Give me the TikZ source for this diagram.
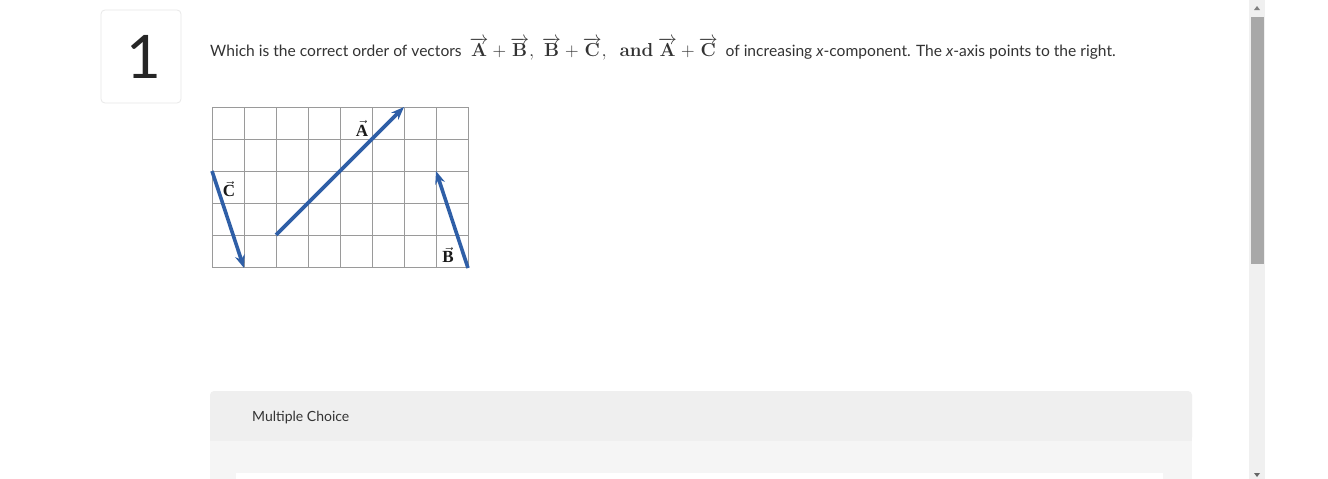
\documentclass[tikz,border=0pt]{standalone}
\usepackage[no-math]{fontspec}
\usepackage{fix-cm}
\setmainfont{Lato}
\newfontfamily\lserif{Liberation Serif}
\usetikzlibrary{arrows.meta}
\definecolor{vecblue}{HTML}{2F5FA7}
\definecolor{gridgray}{HTML}{9A9A9A}
\definecolor{panelgray}{HTML}{EFEFEF}
\definecolor{panellight}{HTML}{F5F5F5}
\definecolor{boxborder}{HTML}{E8E8E8}
\definecolor{scrolltrack}{HTML}{F0F0F0}
\definecolor{scrollthumb}{HTML}{A8A8A8}
\definecolor{txt}{HTML}{333333}
\newcommand{\glabel}[1]{$\vec{\mbox{\lserif\bfseries #1}}$}
\tikzset{
  vecarrow/.style={draw=vecblue, line width=3.6pt, -{Stealth[length=13pt,width=10pt]}},
  gridline/.style={draw=gridgray, line width=0.8pt},
  veclabel/.style={inner sep=0pt, text=black!90, font=\fontsize{17}{17}\selectfont},
}
\begin{document}
\begin{tikzpicture}[x=1pt,y=-1pt]
\useasboundingbox (0,0) rectangle (1328,479);
\fill[white] (0,0) rectangle (1328,479);
% number box
\draw[boxborder, line width=0.8pt, fill=white, rounded corners=4pt] (101,10) rectangle (181,103);
\node[font=\fontsize{60}{60}\selectfont, text=black!85] (num) at (144,57) {1};
% question text
\node[anchor=base west, inner sep=0pt, text=txt, font=\fontsize{15.6}{17}\selectfont] (q) at (210,56)
 {Which is the correct order of vectors \ {\fontsize{18.8}{20}\selectfont$\overrightarrow{\mathbf{A}}+\overrightarrow{\mathbf{B}},\ \overrightarrow{\mathbf{B}}+\overrightarrow{\mathbf{C}},\ \ \mathbf{and}\ \overrightarrow{\mathbf{A}}+\overrightarrow{\mathbf{C}}$}\ \ of increasing \textit{x}-component. The \textit{x}-axis points to the right.};
% grid
\foreach \i in {0,...,8} \draw[gridline] (212+32*\i,107) -- (212+32*\i,267);
\foreach \j in {0,...,5} \draw[gridline] (212,107+32*\j) -- (468,107+32*\j);
% vector endpoints
\coordinate (a0) at (276,235);
\coordinate (a1) at (404,107);
\coordinate (c0) at (212,171);
\coordinate (c1) at (244,268);
\coordinate (b0) at (468,268);
\coordinate (b1) at (436,171);
\draw[vecarrow] (a0) -- (a1);
\draw[vecarrow] (c0) -- (c1);
\draw[vecarrow] (b0) -- (b1);
\node[veclabel] (la) at (362,128) {\glabel{A}};
\node[veclabel] (lc) at (229,189) {\glabel{C}};
\node[veclabel] (lb) at (448,255) {\glabel{B}};
% multiple choice panel
\fill[panelgray, rounded corners=4pt] (210,391) rectangle (1192,441);
\fill[panelgray] (210,430) rectangle (1192,441);
\fill[panellight] (210,441) rectangle (1192,479);
\fill[white] (236,473) rectangle (1163,479);
\node[anchor=base west, inner sep=0pt, text=txt, font=\fontsize{14}{15}\selectfont] (mc) at (252,421) {Multiple Choice};
% scrollbar
\fill[scrolltrack] (1249,0) rectangle (1265,479);
\fill[scrollthumb] (1251,17) rectangle (1264,264);
\fill[gray] (1254,10) -- (1260,10) -- (1257,6) -- cycle;
\fill[black!60] (1254,473) -- (1260,473) -- (1257,477) -- cycle;
\end{tikzpicture}
\end{document}
